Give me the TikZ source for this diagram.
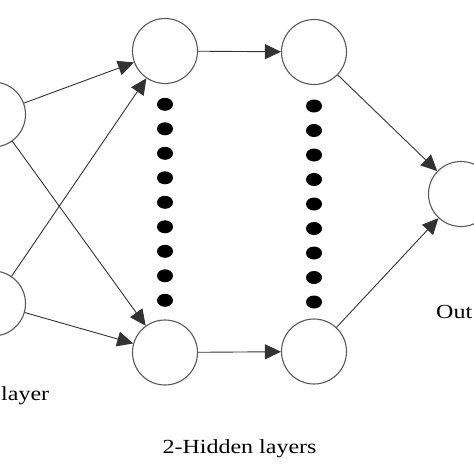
\documentclass[tikz,border=0pt]{standalone}
\usepackage{fontspec}
\setmainfont[FakeStretch=1.2]{Liberation Serif}
\usetikzlibrary{arrows.meta}
\begin{document}
\begin{tikzpicture}[x=1pt,y=-1pt,
  neuron/.style={circle,draw=black!65,line width=1.1pt,fill=white,minimum size=65pt,inner sep=0pt},
  conn/.style={draw=black!80,line width=0.9pt,-{Triangle[length=16pt,width=15pt]}},
  dotmark/.style={fill=black},
  lbl/.style={font=\fontsize{20}{24}\selectfont,inner sep=0pt}]
\useasboundingbox (0,0) rectangle (474,474);
\fill[white] (0,0) rectangle (474,474);
% nodes
\node[neuron] (in1) at (-7,114.5) {};
\node[neuron] (in2) at (-7,303.5) {};
\node[neuron] (h1a) at (165,51) {};
\node[neuron] (h1b) at (165,352.5) {};
\node[neuron] (h2a) at (314,52) {};
\node[neuron] (h2b) at (314,351.5) {};
\node[neuron] (out) at (461,194) {};
% dots
\foreach \i in {0,...,8} {
  \fill[dotmark] (165,{104.3+24.5*\i}) ellipse (8 and 6.5);
  \fill[dotmark] (314,{106+24.5*\i}) ellipse (8 and 6.5);
}
% connectors
\draw[conn] (in1) -- (h1a);
\draw[conn] (in1) -- (h1b);
\draw[conn] (in2) -- (h1a);
\draw[conn] (in2) -- (h1b);
\draw[conn] (h1a) -- (h2a);
\draw[conn] (h1b) -- (h2b);
\draw[conn] (h2a) -- (out);
\draw[conn] (h2b) -- (out);
% labels
\node[lbl,anchor=base west] (linput) at (1,400.3) {layer};
\node[lbl,anchor=base west] (lout) at (436,318.7) {Out};
\node[lbl,anchor=base] (lhidden) at (239.5,453.5) {2-Hidden layers};
\end{tikzpicture}
\end{document}
